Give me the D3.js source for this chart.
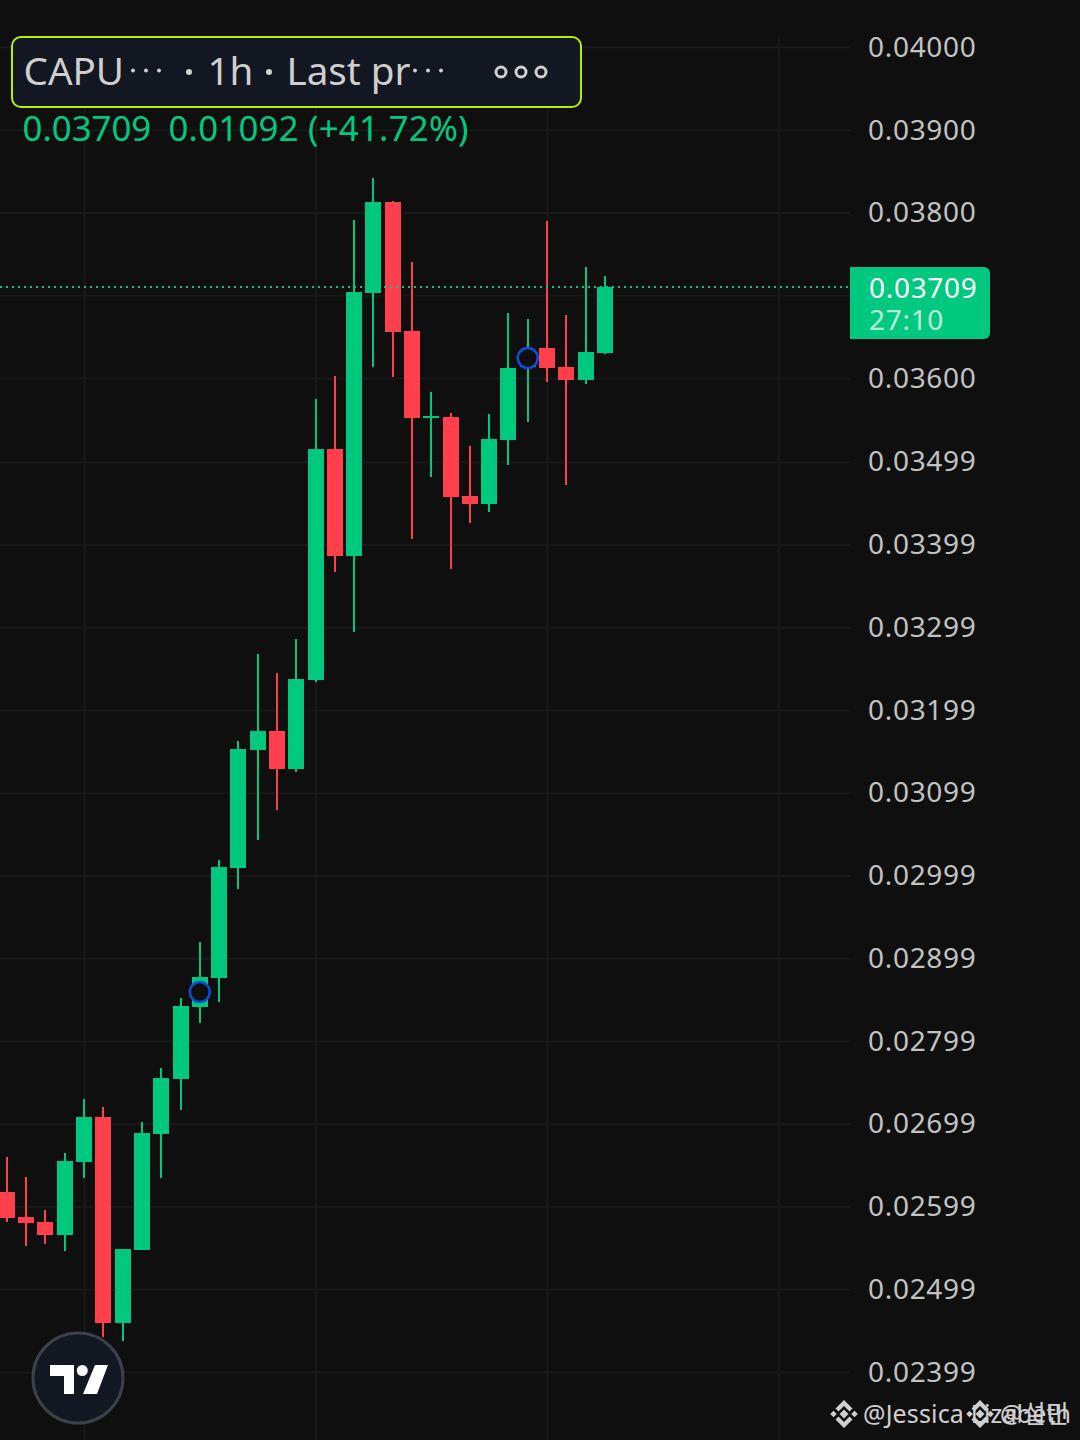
<!DOCTYPE html>
<html>
<head>
<meta charset="utf-8">
<script src="https://cdn.jsdelivr.net/npm/d3@7"></script>
<style>
html,body{margin:0;padding:0;background:#0f0f0f;}
svg{display:block;font-family:"Noto Sans",sans-serif;}
.domain{display:none;}
</style>
</head>
<body>
<svg id="chart" width="1080" height="1440"></svg>
<script>
// candles, oldest first
const opens = [0.026165,0.025863,0.025802,0.025645,0.026527,0.027071,0.024582,0.025464,0.026866,0.027530,0.028400,0.028751,0.030080,0.031506,0.031735,0.031276,0.032351,0.035143,0.033850,0.037028,0.038127,0.036568,0.035517,0.035529,0.034575,0.034478,0.035251,0.036133,0.036363,0.036133,0.035976,0.036303]
const closes = [0.025851,0.025790,0.025645,0.026539,0.027071,0.024582,0.025476,0.026878,0.027542,0.028412,0.028763,0.030092,0.031518,0.031735,0.031276,0.032363,0.035143,0.033850,0.037040,0.038127,0.036556,0.035517,0.035541,0.034563,0.034478,0.035263,0.036121,0.036339,0.036121,0.035976,0.036315,0.0371]
const highs = [0.026588,0.026346,0.025947,0.026636,0.027289,0.027192,0.025476,0.027011,0.027663,0.028509,0.029186,0.030176,0.031614,0.032666,0.032436,0.032847,0.035747,0.036025,0.037910,0.038417,0.038139,0.037402,0.035831,0.035578,0.035179,0.035566,0.036786,0.036713,0.037898,0.036762,0.037342,0.037233]
const lows = [0.025802,0.025512,0.025537,0.025452,0.026334,0.024413,0.024364,0.025464,0.026334,0.027156,0.028207,0.028461,0.029826,0.030418,0.030781,0.031240,0.032327,0.033656,0.032931,0.036133,0.036013,0.034055,0.034804,0.033693,0.034248,0.034381,0.034949,0.035469,0.035952,0.034708,0.035928,0.036291]

const gridTicks = [0.04,0.039,0.038,0.037,0.036,0.03499,0.03399,0.03299,0.03199,0.03099,0.02999,0.02899,0.02799,0.02699,0.02599,0.02499,0.02399]
// no 0.03700 label, the price tag takes its place
const priceLabels = gridTicks.filter(d=>d!=0.037)
const timeTicks = [4,16,28,40]

// the two blue event circles
const markerIndex = [10,27]
const markerPrice = [0.028581,0.036242]

const lastPrice = 0.03709
const countdown = '27:10'
const headerLine = ['0.03709','0.01092 (+41.72%)']

const green = '#00c97f', red = '#ff3f4c', bg = '#0f0f0f', gridColor = '#191919'

const svg = d3.select('#chart')
const candles = opens.map((o,i)=>({i, o, c:closes[i], h:highs[i], l:lows[i]}))

const x = d3.scaleLinear().domain([0,31]).range([6.9,604.9])
const y = d3.scaleLinear().domain([0.04,0.02399]).range([47,1372])

// grid
svg.append('g')
	.attr('transform','translate(0,36)')
	.call(d3.axisBottom(x).tickValues(timeTicks).tickSize(1404).tickFormat(''))
	.selectAll('line').attr('stroke',gridColor).attr('stroke-width',2)

svg.append('g')
	.attr('transform','translate(850,0)')
	.call(d3.axisLeft(y).tickValues(gridTicks).tickSize(850).tickFormat(''))
	.selectAll('line').attr('stroke',gridColor).attr('stroke-width',2)

// price labels
let axis = svg.append('g')
	.attr('transform','translate(868,0)')
	.call(d3.axisRight(y).tickValues(priceLabels).tickSize(0).tickPadding(0).tickFormat(d3.format('.5f')))
axis.selectAll('text')
	.attr('fill','#c2c2c2')
	.attr('dy','0.33em')
	.style('font-size','28px')
	.style('font-family','"Noto Sans",sans-serif')
	.style('letter-spacing','0.7px')

// candles
let color = d => d.c >= d.o ? green : red
let g = svg.append('g').attr('shape-rendering','crispEdges')
g.selectAll('.wick').data(candles).join('rect')
	.attr('class','wick')
	.attr('x',d=>x(d.i)-1)
	.attr('width',2)
	.attr('y',d=>y(d.h))
	.attr('height',d=>y(d.l)-y(d.h))
	.attr('fill',color)
g.selectAll('.body').data(candles).join('rect')
	.attr('class','body')
	.attr('x',d=>x(d.i)-8)
	.attr('width',16)
	.attr('y',d=>y(Math.max(d.o,d.c)))
	.attr('height',d=>Math.max(2,Math.abs(y(d.o)-y(d.c))))
	.attr('fill',color)

// last price line
svg.append('line')
	.attr('x1',0).attr('x2',850)
	.attr('y1',Math.floor(y(lastPrice))).attr('y2',Math.floor(y(lastPrice)))
	.attr('stroke',green).attr('stroke-width',2)
	.attr('stroke-dasharray','2 4')
	.attr('shape-rendering','crispEdges')

// event circles
svg.selectAll('.marker').data(markerIndex).join('circle')
	.attr('class','marker')
	.attr('cx',d=>x(d))
	.attr('cy',(d,i)=>y(markerPrice[i]))
	.attr('r',10)
	.attr('fill',bg)
	.attr('stroke','#0c50d8')
	.attr('stroke-width',2.5)

// legend box
let head = svg.append('g')
head.append('rect')
	.attr('x',12).attr('y',37).attr('width',569).attr('height',70).attr('rx',9)
	.attr('fill','#131722').attr('stroke','#b4f000').attr('stroke-width',2)
let headText = (txt,tx)=> head.append('text')
	.attr('x',tx).attr('y',84.5).attr('fill','#cfcfcf')
	.style('font-size','38.6px').text(txt)
headText('CAPU',23.5)
headText('1h',207.5)
headText('Last pr',286.5)
// ellipsis and separator dots
;[[133,2],[146,2],[159,2],[189,3],[269,3],[415,2],[428,2],[441,2]].forEach(p=>{
	head.append('circle').attr('cx',p[0]).attr('cy',p[1]==3?72:70.5).attr('r',p[1]).attr('fill','#cfcfcf')
})
;[501,521,541].forEach(cx=>{
	head.append('circle').attr('cx',cx).attr('cy',72).attr('r',5)
		.attr('fill','none').attr('stroke','#cfcfcf').attr('stroke-width',3)
})
head.selectAll('.quote').data(headerLine).join('text')
	.attr('class','quote')
	.attr('x',(d,i)=>i==0?22.5:168.5)
	.attr('y',141)
	.attr('fill',green)
	.style('font-size','34.8px')
	.style('letter-spacing',(d,i)=>i==0?'0':'0.22px')
	.text(d=>d)

// last price tag
svg.append('path')
	.attr('d','M850,267H984a6,6 0 0 1 6,6V333a6,6 0 0 1 -6,6H850Z')
	.attr('fill',green)
svg.append('text')
	.attr('x',869).attr('y',298).attr('fill','#fff')
	.style('font-size','28px').style('letter-spacing','0.7px')
	.text(d3.format('.5f')(lastPrice))
svg.append('text')
	.attr('x',869).attr('y',330).attr('fill','#fff').attr('opacity',0.7)
	.style('font-size','28px').style('letter-spacing','0.7px')
	.text(countdown)

// tradingview badge
let badge = svg.append('g')
badge.append('circle')
	.attr('cx',78).attr('cy',1378).attr('r',45)
	.attr('fill','#131722').attr('stroke','#3c4048').attr('stroke-width',3)
badge.append('path')
	.attr('d','M50,1365H74V1394H64V1376H50Z M95,1365H108L97,1394H83Z')
	.attr('fill','#fff')
badge.append('circle').attr('cx',82.3).attr('cy',1370.5).attr('r',5.5).attr('fill','#fff')

// watermark
let diamond = 'M0,-14L8.5,-5.5L5.5,-2.5L0,-8L-5.5,-2.5L-8.5,-5.5Z M0,14L8.5,5.5L5.5,2.5L0,8L-5.5,2.5L-8.5,5.5Z M0,-4.5L4.5,0L0,4.5L-4.5,0Z M-10.5,-3.3L-7.2,0L-10.5,3.3L-13.8,0Z M10.5,-3.3L13.8,0L10.5,3.3L7.2,0Z'
let mark = svg.append('g').attr('fill','#fff').attr('opacity',0.8)
;[[844,'@Jessica Lizabeth',863],[980,'@설민',1000]].forEach(m=>{
	mark.append('path').attr('d',diamond).attr('transform',`translate(${m[0]},1414)`)
	mark.append('text').attr('x',m[2]).attr('y',1423).style('font-size','25px')
		.style('letter-spacing','0.15px')
		.style('font-family','"Noto Sans","Noto Sans CJK KR",sans-serif').text(m[1])
})
</script>
</body>
</html>
